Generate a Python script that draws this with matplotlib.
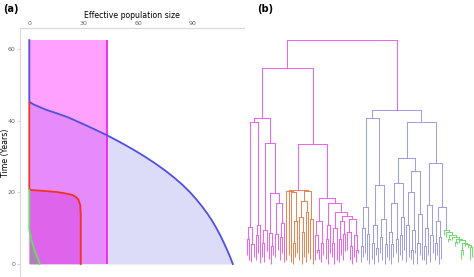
import matplotlib
matplotlib.use('Agg')
import matplotlib.pyplot as plt

# ---------------- Panel (a) data: effective population size through time ----------------
blue_t = [62.5, 45.3, 45.0, 44.5, 44.0, 43.0, 42.0, 41.0, 40.0, 38.0, 36.0, 34.0, 32.0, 30.0, 28.0,
          26.0, 24.0, 22.0, 20.0, 18.0, 16.0, 14.0, 12.0, 10.0, 8.0, 6.0, 4.0, 2.0, 0.0]
blue_v = [0, 0, 0.8, 2.5, 4.8, 9.5, 15.5, 21, 25.5, 34.2, 42.5, 50, 57, 63.5, 69.5,
          75, 80, 84.5, 88.5, 92, 95.2, 98.1, 100.7, 103, 105.1, 107, 108.8, 110.5, 112]
magenta_t = [62.5, 0]
magenta_v = [42.8, 42.8]
red_t = [45, 20.8, 20.6, 20.4, 20.1, 19.7, 19.3, 18.8, 18.0, 16.5, 14, 0]
red_v = [0, 0, 2, 8, 15, 20, 23.5, 25.5, 27, 28, 28.3, 28.3]
green_t = [20.7, 9.5, 6.7, 3.4, 1.1, 0]
green_v = [0, 0, 1.2, 3.1, 5.0, 5.7]
x_ticks = [0, 30, 60, 90]
y_ticks = [0, 20, 40, 60]

# ---------------- Panel (b) data: time tree, clades as [node height, child, child]; leaves = tip heights ----------------
LL_a1 = [10.3, [7.0, 2.5, 1.0], [5.5, 0.5, 2.0]]
LL_a2 = [10.9, [8.0, 1.0, 3.0], 0.2]
LL_b1 = [9.5, [6.0, 2.0, 0.5], 3.5]
LL_b2a = [8.7, 1.5, [5.0, 0.0, 2.5]]
LL_b2b1 = [8.5, 2.0, 4.0]
LL_b2b2 = [11.4, [7.5, 1.0, 3.0], 0.5]
OR_left = [20.5, 1.0, [20.3, 2.5, [20.1, 0.5, [12.0, [6.0, 0.0, 2.0], 3.0]]]]
OR_right = [20.4, [17.5, [13.0, 1.0, [9.0, 0.0, 2.0]], [14.5, 0.5, 3.0]], [12.5, 1.5, 0.0]]
M2_a = [12.0, [8.0, 1.0, [4.0, 3.0, 1.5]], [6.0, 0.5, 2.5]]
M2_b1 = [11.0, [7.0, 1.5, 0.0], 3.0]
M2_b2a = [10.0, [6.0, 2.0, 0.0], 1.0]
M2_b2b = [13.5, [12.0, [7.0, 0.5, 2.5], [8.5, 1.0, 3.5]],
          [12.5, [9.0, 4.0, [5.0, 1.0, 0.0]], [8.0, 2.0, [4.0, 0.5, 3.0]]]]
BL_a = [16.0, [10.0, [5.0, 0.5, 2.0], 3.0], [8.5, 1.0, 0.0]]
BL_b = [22.0, [11.0, [6.0, 1.5, 0.0], [4.5, 2.5, 0.5]], [12.5, [7.5, 3.0, 1.0], [5.5, 0.0, 2.0]]]
BR1_a = [22.6, [17.0, [9.0, 1.0, [5.5, 0.0, 2.0]], [7.0, 3.0, 0.5]], [13.0, [8.0, 2.5, 1.0], 4.0]]
BR1_b = [26.0, [20.0, [11.0, 0.5, 2.0], [9.5, [4.0, 1.5, 0.0], 3.0]], [14.0, [6.0, 0.0, 2.5], 1.0]]
BR2_a = [16.5, [10.0, [5.0, 1.0, 0.0], 2.5], [8.0, 0.5, 3.0]]
BR2_b_blue = [12.0, [6.0, 1.0, 2.5], [7.5, 0.0, 1.5]]
GREEN = [9.5, 8.2, [8.9, 7.5, [8.2, [7.0, 6.2, 6.6], [7.6, 6.8, [7.0, [6.2, 5.0, 5.6],
         [6.6, 6.0, [6.0, [4.0, 1.5, 2.5], [5.6, 5.0, [5.3, 4.6, [4.8, 1.2, 2.0]]]]]]]]]]

LL = [40.7, [39.6, LL_a1, LL_a2], [33.8, LL_b1, [19.8, LL_b2a, [17.0, LL_b2b1, LL_b2b2]]]]
ORANGE = [20.7, OR_left, OR_right]
M2 = [18.4, M2_a, [17.0, M2_b1, [14.5, M2_b2a, M2_b2b]]]
MAGENTA = [54.7, LL, [33.5, ORANGE, M2]]
BLUE = [43.0, [40.7, BL_a, BL_b], [39.6, [29.6, BR1_a, BR1_b], [28.2, BR2_a, [16.0, BR2_b_blue, GREEN]]]]
ROOT = [62.5, MAGENTA, BLUE]

# ---------------- styling ----------------
C_BLUE = '#5050e0'
C_MAG = '#ee22ee'
C_RED = '#ee3322'
C_GREEN = '#66dd66'
T_MAG = '#ee55ee'
T_ORANGE = '#ea7a40'
T_BLUE = '#9696e4'
T_GREEN = '#62dc62'

W, H = 474, 277
fig = plt.figure(figsize=(W / 100, H / 100), dpi=100)

# pixel geometry
px_per_unit = 1.817   # x
x0_px = 29.3
px_per_year = 3.583
y0_px = 264.0
top_px, bot_px = 28, 277
ylim = ((y0_px - bot_px) / px_per_year, (y0_px - top_px) / px_per_year)

# ---------------- Panel (a) ----------------
axl, axr = 20, 244
ax1 = fig.add_axes([axl / W, 1 - bot_px / H, (axr - axl) / W, (bot_px - top_px) / H])
ax1.set_xlim((axl - x0_px) / px_per_unit, (axr - x0_px) / px_per_unit)
ax1.set_ylim(*ylim)

ax1.fill_betweenx(blue_t, 0, blue_v, color=C_BLUE, alpha=0.2, lw=0)
ax1.fill_betweenx(magenta_t, 0, magenta_v, color='#ff00ff', alpha=0.37, lw=0)
ax1.fill_betweenx(red_t, 0, red_v, color='#c800c8', alpha=0.28, lw=0)
ax1.fill_betweenx(green_t, 0, green_v, color='#55bb55', alpha=0.35, lw=0)

ax1.plot(magenta_v, magenta_t, color=C_MAG, lw=1.3, solid_capstyle='butt')
ax1.plot(blue_v, blue_t, color=C_BLUE, lw=1.3)
ax1.plot(red_v, red_t, color=C_RED, lw=1.3)
ax1.plot(green_v, green_t, color=C_GREEN, lw=1.3)

for s in ['bottom', 'right']:
    ax1.spines[s].set_visible(False)
for s in ['top', 'left']:
    ax1.spines[s].set_color('#d8d8d8')
    ax1.spines[s].set_linewidth(0.8)
ax1.xaxis.tick_top()
ax1.xaxis.set_label_position('top')
ax1.set_xticks(x_ticks)
ax1.set_yticks(y_ticks)
ax1.tick_params(axis='x', length=0, labelsize=4.5, labelcolor='#666666', pad=1.5)
ax1.tick_params(axis='y', length=2, color='#d8d8d8', labelsize=4.5, labelcolor='#666666', pad=1.5)
ax1.set_xlabel('Effective population size', fontsize=5.6, labelpad=2)
ax1.set_ylabel('Time (Years)', fontsize=5.6)
ax1.yaxis.set_label_coords(-0.043, 0.5)

# ---------------- Panel (b) ----------------
def n_leaves(c):
    return 1 if not isinstance(c, list) else n_leaves(c[1]) + n_leaves(c[2])

N = n_leaves(ROOT)
leaf_first_px, leaf_last_px = 247, 472
step = (leaf_last_px - leaf_first_px) / (N - 1)
bl, br = 245, 474
ax2 = fig.add_axes([bl / W, 1 - bot_px / H, (br - bl) / W, (bot_px - top_px) / H])
ax2.set_xlim((bl - leaf_first_px) / step, (br - leaf_first_px) / step)
ax2.set_ylim(*ylim)
ax2.axis('off')

clade_color = {id(ROOT): T_MAG, id(BLUE): T_BLUE, id(ORANGE): T_ORANGE, id(GREEN): T_GREEN}
LW = 0.65

def draw(c, color, parent_h, pos):
    if not isinstance(c, list):
        x = pos[0]
        pos[0] += 1
        ax2.plot([x, x], [parent_h, c], color=color, lw=LW, solid_capstyle='butt')
        return x
    col = clade_color.get(id(c), color)
    h, a, b = c
    xa = draw(a, col, h, pos)
    xb = draw(b, col, h, pos)
    x = (xa + xb) / 2
    ax2.plot([xa, xb], [h, h], color=col, lw=LW, solid_capstyle='projecting')
    if parent_h is not None:
        ax2.plot([x, x], [parent_h, h], color=color, lw=LW, solid_capstyle='butt')
    return x

draw(ROOT, T_MAG, None, [0])

fig.text(3 / W, 1 - 8.5 / H, '(a)', fontsize=7, fontweight='bold', va='center', ha='left')
fig.text(257 / W, 1 - 8.5 / H, '(b)', fontsize=7, fontweight='bold', va='center', ha='left')

fig.savefig('out.png', dpi=100)
